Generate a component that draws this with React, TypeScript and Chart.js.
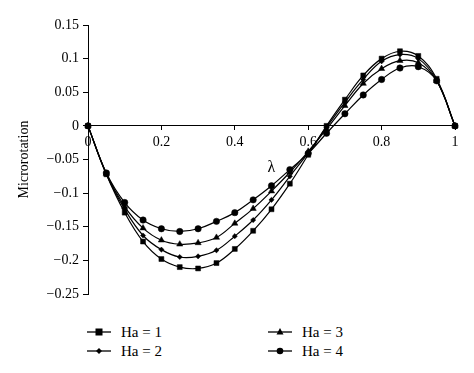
import React, { useEffect, useRef } from "react";
import { Chart, registerables } from "chart.js";

Chart.register(...registerables);

const lambdaValues = [0, 0.05, 0.1, 0.15, 0.2, 0.25, 0.3, 0.35, 0.4, 0.45, 0.5, 0.55, 0.6, 0.65, 0.7, 0.75, 0.8, 0.85, 0.9, 0.95, 1];

const ha1 = [0, -0.072, -0.129, -0.172, -0.198, -0.210, -0.212, -0.204, -0.183, -0.156, -0.124, -0.086, -0.043, 0.0, 0.039, 0.075, 0.100, 0.111, 0.104, 0.070, 0];
const ha2 = [0, -0.072, -0.124, -0.163, -0.184, -0.195, -0.194, -0.185, -0.164, -0.140, -0.110, -0.075, -0.040, -0.002, 0.035, 0.069, 0.096, 0.106, 0.100, 0.068, 0];
const ha3 = [0, -0.071, -0.120, -0.152, -0.170, -0.176, -0.174, -0.166, -0.145, -0.123, -0.097, -0.069, -0.038, -0.005, 0.030, 0.063, 0.085, 0.097, 0.094, 0.067, 0];
const ha4 = [0, -0.070, -0.114, -0.140, -0.153, -0.157, -0.153, -0.142, -0.129, -0.110, -0.089, -0.065, -0.041, -0.011, 0.018, 0.046, 0.069, 0.086, 0.088, 0.067, 0];

const seriesLabels = ["Ha = 1", "Ha = 2", "Ha = 3", "Ha = 4"];
const seriesValues = [ha1, ha2, ha3, ha4];
const pointStyles = ["rect", "rectRot", "triangle", "circle"];
const pointRadii = [3.5, 2.6, 3.6, 3.2];

const xTickValues = [0, 0.2, 0.4, 0.6, 0.8, 1];
const yMin = -0.25;
const yMax = 0.15;
const yStep = 0.05;

const FONT = "'Liberation Serif', serif";

function fmt(v: number): string {
  const r = Math.round(v * 100) / 100;
  if (r === 0) return "0";
  const s = String(Math.abs(r));
  return r < 0 ? "\u2212" + s : s;
}

function LegendMarker({ style }: { style: string }) {
  const cx = 12;
  const cy = 6;
  let shape: React.ReactNode = null;
  if (style === "rect") shape = <rect x={cx - 3.5} y={cy - 3.5} width={7} height={7} fill="#000" />;
  else if (style === "rectRot") shape = <polygon points={`${cx},${cy - 3} ${cx + 3},${cy} ${cx},${cy + 3} ${cx - 3},${cy}`} fill="#000" />;
  else if (style === "triangle") shape = <polygon points={`${cx},${cy - 4} ${cx + 3.5},${cy + 2.5} ${cx - 3.5},${cy + 2.5}`} fill="#000" />;
  else shape = <circle cx={cx} cy={cy} r={3.3} fill="#000" />;
  return (
    <svg width={24} height={12} style={{ display: "block" }}>
      <line x1={0} y1={cy} x2={24} y2={cy} stroke="#000" strokeWidth={1.3} />
      {shape}
    </svg>
  );
}

export default function App() {
  const canvasRef = useRef<HTMLCanvasElement | null>(null);

  useEffect(() => {
    if (!canvasRef.current) return;
    const datasets = seriesLabels.map((label, i) => ({
      label,
      data: lambdaValues.map((x, j) => ({ x, y: seriesValues[i][j] })),
      borderColor: "#000",
      backgroundColor: "#000",
      borderWidth: 1.2,
      pointStyle: pointStyles[i] as any,
      pointRadius: pointRadii[i],
      pointBackgroundColor: "#000",
      pointBorderColor: "#000",
      pointBorderWidth: 0.5,
      tension: 0.4,
      clip: false as any,
    }));

    const chart = new Chart(canvasRef.current, {
      type: "line",
      data: { datasets },
      options: {
        animation: false,
        responsive: false,
        maintainAspectRatio: false,
        font: { family: FONT },
        layout: { padding: { top: 17, right: 11, left: 0, bottom: 14 } },
        plugins: { legend: { display: false }, tooltip: { enabled: false } },
        scales: {
          x: {
            type: "linear",
            position: { y: 0 } as any,
            min: 0,
            max: 1,
            afterBuildTicks: (scale: any) => {
              scale.ticks = xTickValues.map((v) => ({ value: v }));
            },
            ticks: {
              color: "#000",
              font: { family: FONT, size: 14 },
              padding: 4,
              maxRotation: 0,
              callback: (v: any) => fmt(Number(v)),
            },
            grid: { display: true, drawOnChartArea: false, drawTicks: true, tickLength: 4, color: "#000" },
            border: { display: true, color: "#000", width: 1 },
            title: { display: true, text: "\u03bb", color: "#000", font: { family: FONT, size: 16 }, padding: { top: 4, bottom: 0 } },
          },
          y: {
            type: "linear",
            position: "left",
            min: yMin,
            max: yMax,
            ticks: {
              stepSize: yStep,
              color: "#000",
              font: { family: FONT, size: 14 },
              padding: 4,
              callback: (v: any) => fmt(Number(v)),
            },
            afterFit: (scale: any) => {
              scale.width = 80;
            },
            grid: { display: true, drawOnChartArea: false, drawTicks: true, tickLength: 5, color: "#000" },
            border: { display: true, color: "#000", width: 1 },
            title: { display: true, text: "Microrotation", color: "#000", font: { family: FONT, size: 14 }, padding: { top: 8, bottom: 0 } },
          },
        },
      },
    } as any);
    return () => chart.destroy();
  }, []);

  const legendItems = [
    { i: 0, left: 79, top: 316 },
    { i: 2, left: 260, top: 316 },
    { i: 1, left: 79, top: 335 },
    { i: 3, left: 260, top: 335 },
  ];

  return (
    <div style={{ position: "relative", width: 458, height: 357, fontFamily: FONT }}>
      <canvas ref={canvasRef} width={458} height={300} style={{ position: "absolute", left: 0, top: 0, width: 458, height: 300 }} />
      {legendItems.map(({ i, left, top }) => (
        <div key={i} style={{ position: "absolute", left, top, display: "flex", alignItems: "center", height: 16 }}>
          <LegendMarker style={pointStyles[i]} />
          <span style={{ marginLeft: 10, fontSize: 15, color: "#000", lineHeight: "16px", fontFamily: FONT }}>{seriesLabels[i]}</span>
        </div>
      ))}
    </div>
  );
}
